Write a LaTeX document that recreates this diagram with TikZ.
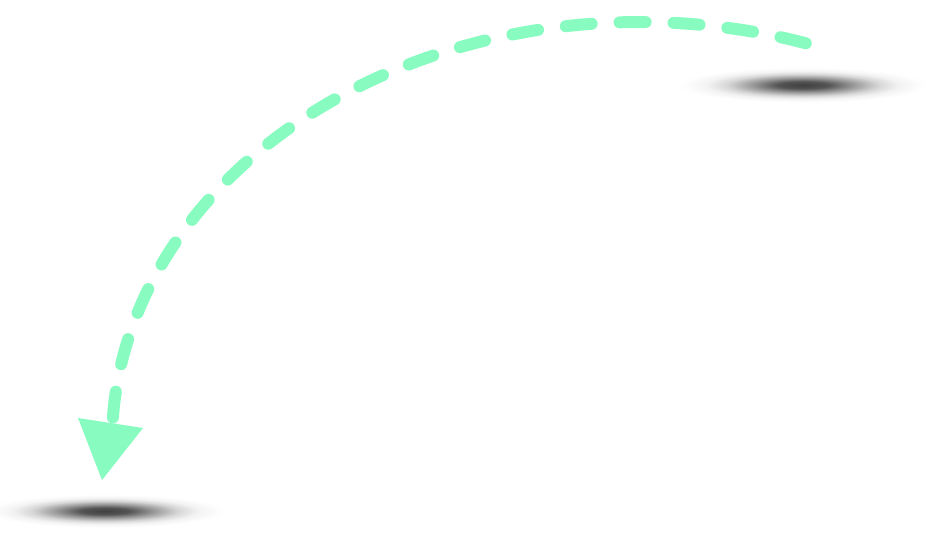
\documentclass[tikz,border=0pt]{standalone}
\usetikzlibrary{calc}
\definecolor{mint}{HTML}{88FCC0}
\pgfdeclareradialshading{blob}{\pgfpoint{0bp}{0bp}}{color(0bp)=(black!75); color(5bp)=(black!67); color(10bp)=(black!40); color(15bp)=(black!16); color(19bp)=(black!5); color(23bp)=(black!1); color(25bp)=(white); color(50bp)=(white)}
\tikzset{
  dashline/.style={draw=mint, line width=12pt, line cap=round, dash pattern=on 26pt off 28pt},
  tiphead/.style={fill=mint, draw=none},
  shadowblob/.style={shading=blob, draw=none}
}
\begin{document}
\begin{tikzpicture}[x=1pt,y=1pt]
\useasboundingbox (0,0) rectangle (925,-536);
% shadows
\shade[shadowblob] (803,-85) ellipse [x radius=126, y radius=18];
\shade[shadowblob] (105,-511) ellipse [x radius=122, y radius=17];
% arc
\coordinate (ctr) at (640,-442);
\coordinate (start) at ($(ctr)+(71.7:528 and 420)$);
\draw[dashline] (start) arc[start angle=71.7, end angle=177.3, x radius=528, y radius=420];
% arrowhead
\coordinate (tl) at (78,-418);
\coordinate (tr) at (143,-428);
\coordinate (tip) at (102,-480);
\fill[tiphead] (tl) -- (tr) -- (tip) -- cycle;
\end{tikzpicture}
\end{document}
